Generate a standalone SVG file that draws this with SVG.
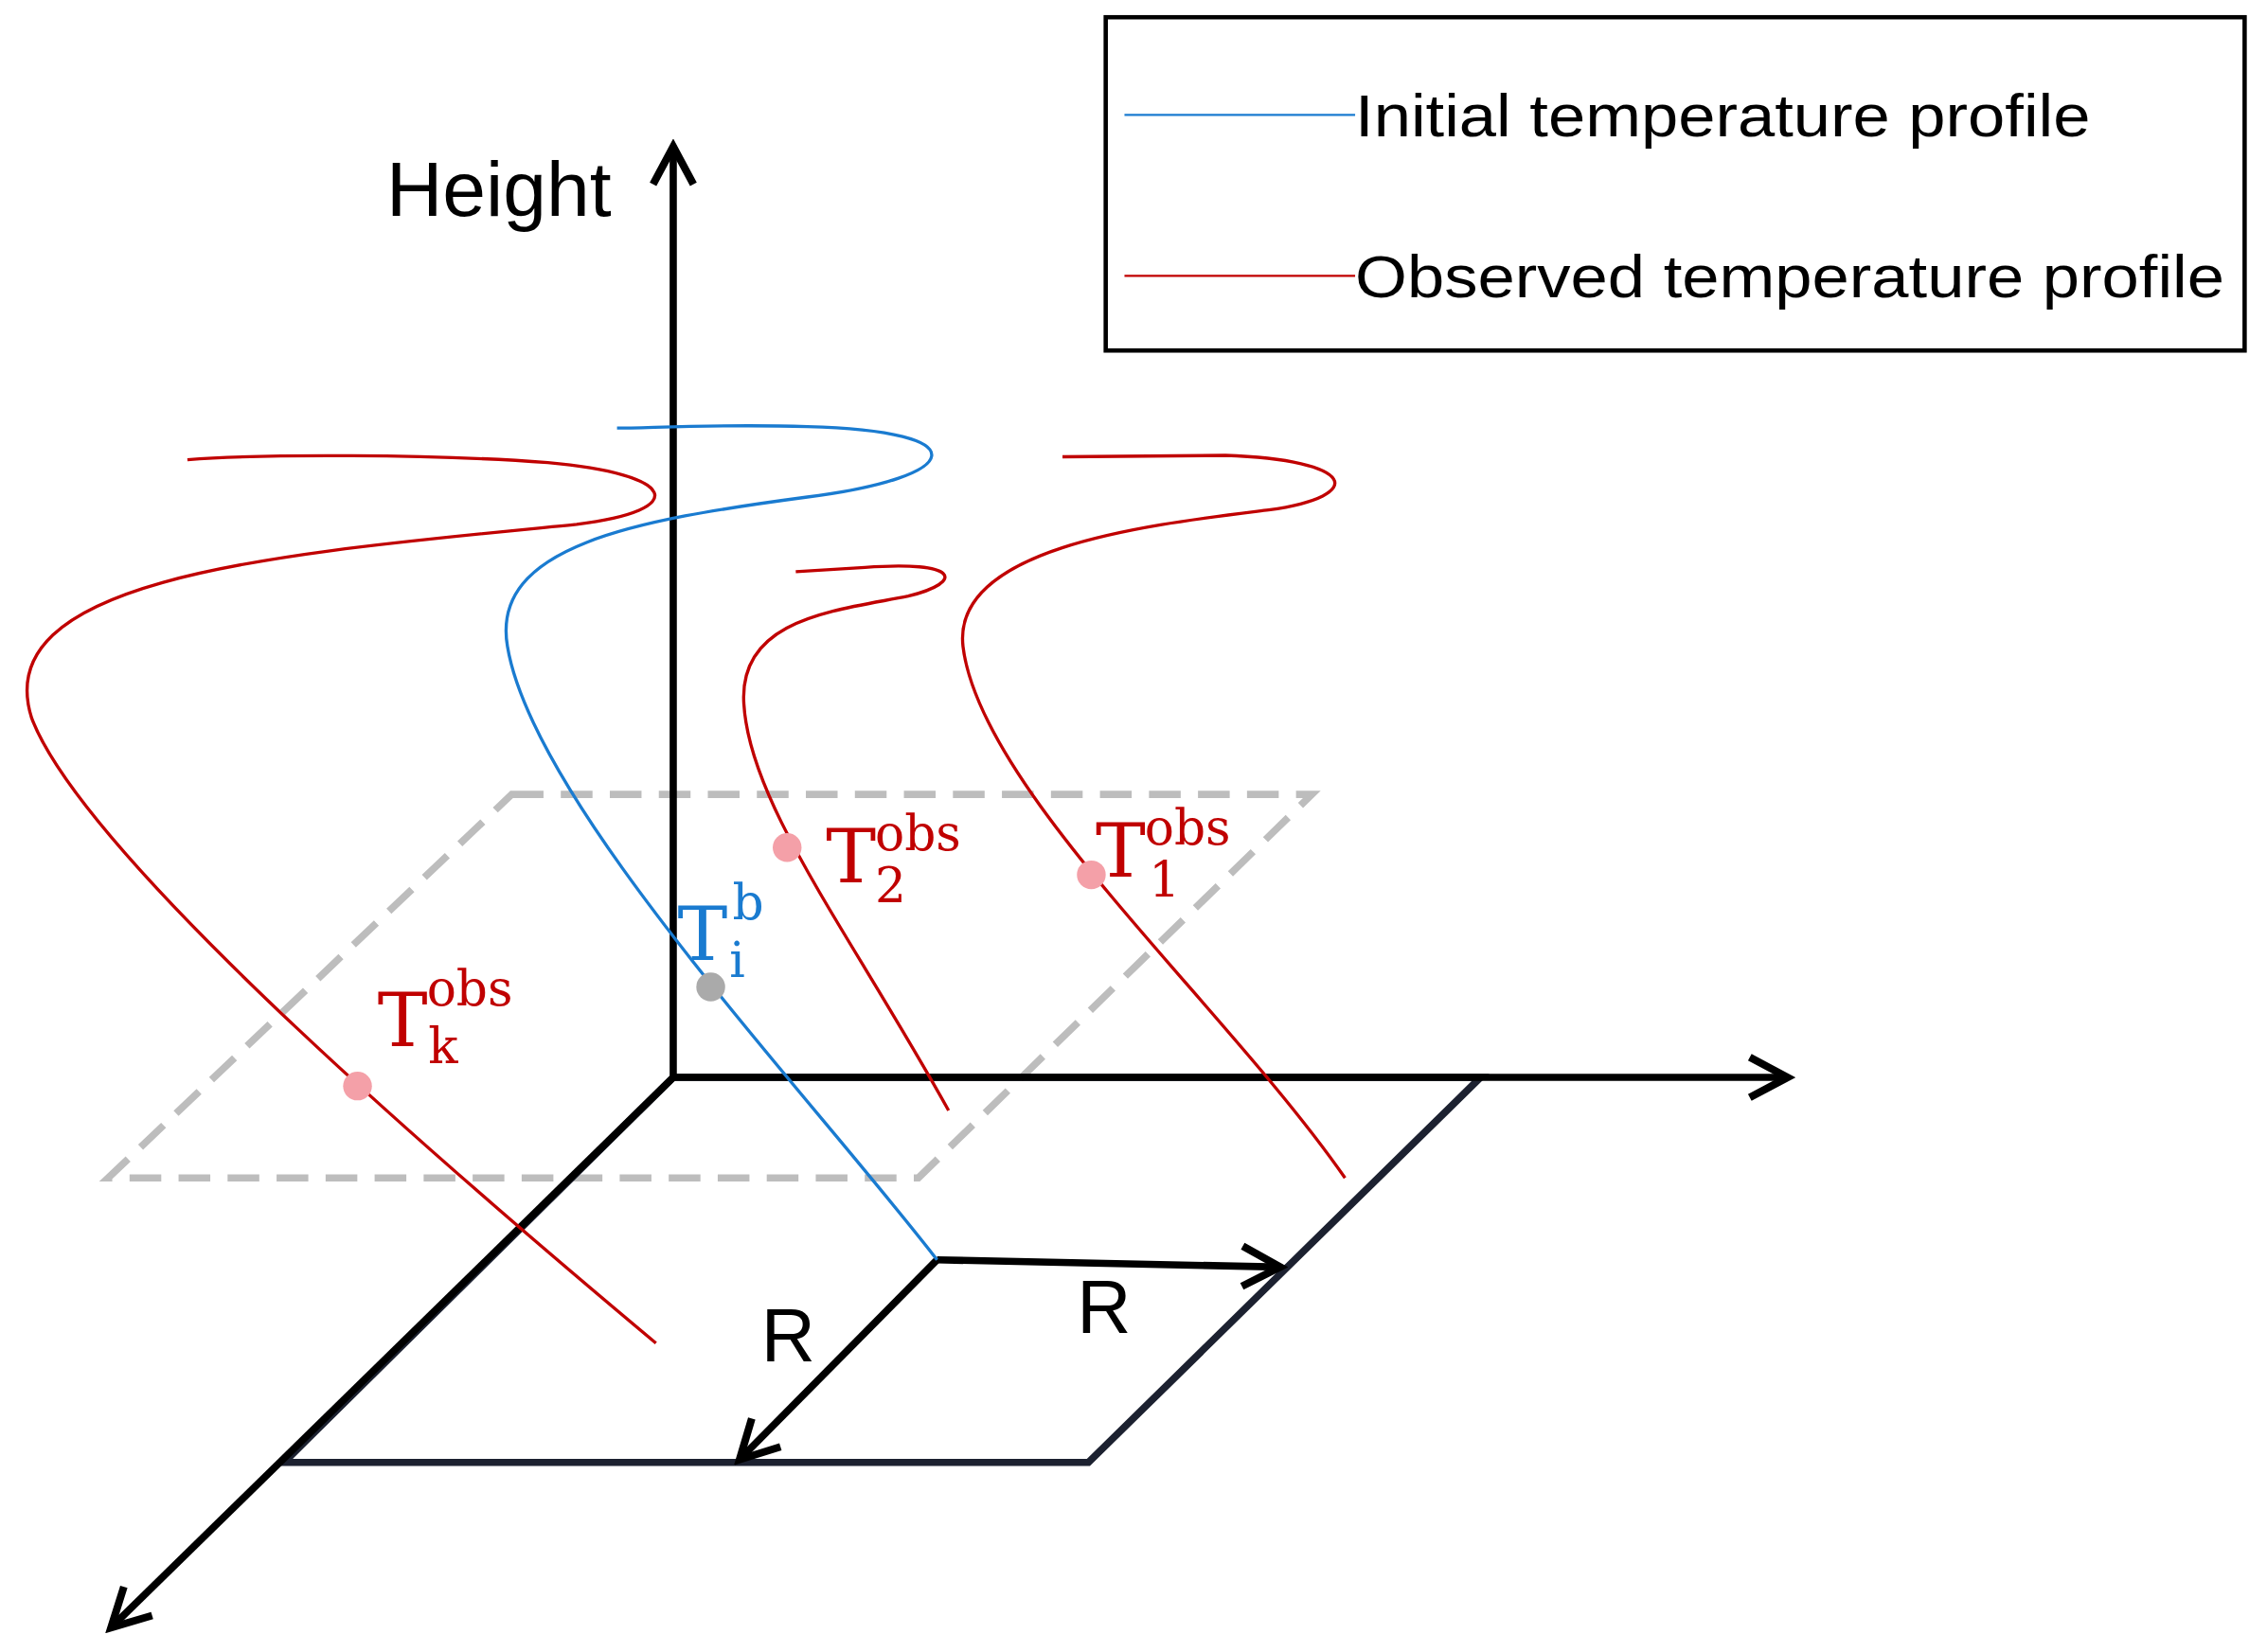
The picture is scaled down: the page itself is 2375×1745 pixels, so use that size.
<svg xmlns="http://www.w3.org/2000/svg" width="2375" height="1745" viewBox="0 0 2375 1745">
<style>
.ax{fill:none;stroke:#000;stroke-width:5}
.gr{fill:none;stroke:#1c2130;stroke-width:5;stroke-linejoin:miter}
.dash{fill:none;stroke:#bdbdbd;stroke-width:5;stroke-dasharray:22 12}
.red{fill:none;stroke:#c00000;stroke-width:2.2}
.blue{fill:none;stroke:#1a7bd0;stroke-width:2.2}
.lbl{font-family:"Liberation Sans",Arial,sans-serif;fill:#000}
.m{font-family:"DejaVu Serif","Liberation Serif",serif}
.r{fill:#c00000}.b{fill:#1a7bd0}
.pk{fill:#f4a0a8}
</style>
<defs>
<marker id="ar" viewBox="0 0 20 20" refX="17" refY="10" markerWidth="7" markerHeight="7" orient="auto" markerUnits="strokeWidth">
<path d="M2,2 L17,10 L2,18" fill="none" stroke="#000" stroke-width="3"/>
</marker>
</defs>
<rect width="2375" height="1745" fill="#fff"/>
<g transform="scale(1.5224,1.5174)">
<g id="legend">
<rect x="767" y="12" width="790" height="232" fill="none" stroke="#000" stroke-width="3"/>
<line x1="780" y1="80" x2="940" y2="80" stroke="#1a7bd0" stroke-width="1.5"/>
<text class="lbl" x="940" y="95" font-size="42" textLength="510" lengthAdjust="spacingAndGlyphs">Initial temperature profile</text>
<line x1="780" y1="192" x2="940" y2="192" stroke="#c00000" stroke-width="1.5"/>
<text class="lbl" x="940" y="207" font-size="42" textLength="603" lengthAdjust="spacingAndGlyphs">Observed temperature profile</text>
</g>
<g id="plane">
<path class="dash" d="M355,553 L910,553 L637,820 L75,820 Z"/>
<path class="gr" d="M467,750 L1027,750 L755,1018 L197,1018 Z"/>
</g>
<g id="connectors">
<path class="ax" d="M467,750 L467,102" marker-end="url(#ar)"/>
<path class="ax" d="M467,750 L1240,750" marker-end="url(#ar)"/>
<path class="ax" d="M467,750 L77,1133" marker-end="url(#ar)"/>
<path class="ax" d="M650,877 L888,882" marker-end="url(#ar)" stroke-width="4"/>
<path class="ax" d="M650,877 L513,1016" marker-end="url(#ar)" stroke-width="4"/>
</g>
<g id="curves">
<path class="blue" d="M650,877 C560,760 370,560 352,450 C340,380 440,362 560,346 C670,332 680,300 560,297 C500,295 450,298 428,298"/>
<path class="red" d="M455,935 C330,830 60,600 22,500 C-10,400 200,385 400,365 C480,355 470,330 380,322 C300,316 180,316 130,320"/>
<path class="red" d="M658,773 C590,650 520,560 516,490 C512,430 580,425 630,415 C670,405 665,390 600,395 L552,398"/>
<path class="red" d="M933,820 C850,700 680,550 668,450 C660,380 800,365 880,355 C950,345 940,320 850,317 L737,318"/>
</g>
<g id="points">
<circle class="pk" cx="248" cy="756" r="10"/>
<circle class="pk" cx="546" cy="590" r="10"/>
<circle class="pk" cx="757" cy="609" r="10"/>
<circle cx="493" cy="687" r="10" fill="#aaa"/>
</g>
<g id="labels">
<text class="lbl" x="268" y="150" font-size="54">Height</text>
<text class="lbl" x="528" y="948" font-size="52">R</text>
<text class="lbl" x="747" y="928" font-size="52">R</text>
<text class="m r" x="262" y="728" font-size="52">T</text>
<text class="m r" x="296" y="700" font-size="34">obs</text>
<text class="m r" x="297" y="740" font-size="34">k</text>
<text class="m r" x="573" y="614" font-size="52">T</text>
<text class="m r" x="607" y="592" font-size="34">obs</text>
<text class="m r" x="607" y="628" font-size="34">2</text>
<text class="m r" x="760" y="610" font-size="52">T</text>
<text class="m r" x="794" y="588" font-size="34">obs</text>
<text class="m r" x="797" y="624" font-size="34">1</text>
<text class="m b" x="470" y="668" font-size="52">T</text>
<text class="m b" x="508" y="640" font-size="34">b</text>
<text class="m b" x="506" y="680" font-size="34">i</text>
</g>
</g>
</svg>
